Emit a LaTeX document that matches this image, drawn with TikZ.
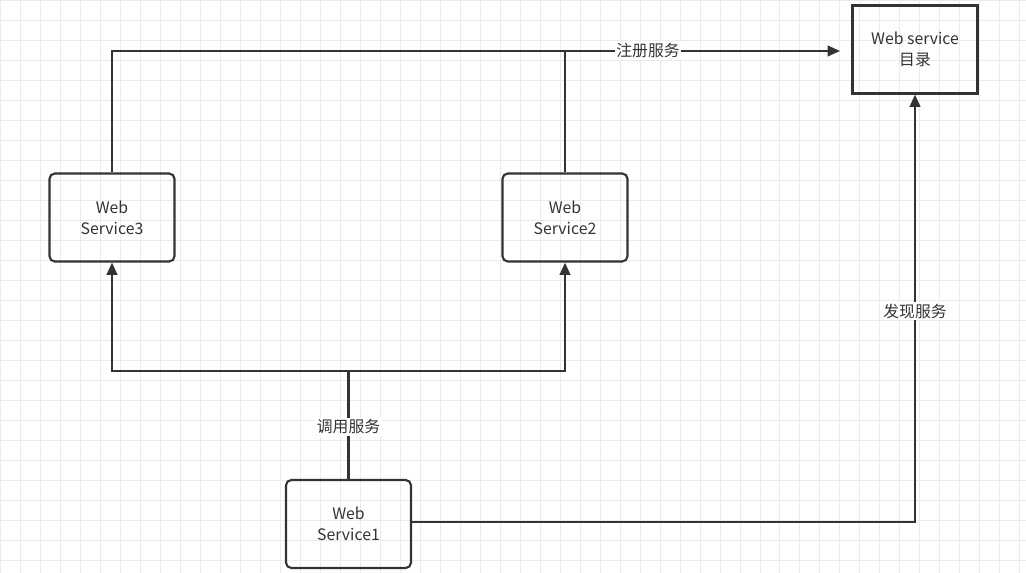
\documentclass[tikz,border=0pt]{standalone}
\usepackage{fontspec}
\setmainfont{Noto Sans CJK SC}
\usetikzlibrary{arrows.meta}
\tikzset{
  svc/.style={draw=black!80,line width=1.2pt,rounded corners=3pt,minimum width=2.5cm,minimum height=1.76cm,align=center,font=\fontsize{9}{12}\selectfont,text=black!80},
  lnk/.style={draw=black!80,line width=1.2pt,-{Triangle[length=7pt,width=6pt]}},
  lbl/.style={fill=white,inner sep=1pt,font=\fontsize{9}{12}\selectfont,text=black!80}
}
\begin{document}
\begin{tikzpicture}[x=0.02cm,y=-0.02cm]
        \useasboundingbox (0,0) rectangle (1026,573);
        \draw[black!8,step=0.4cm] (0,0) grid (1026,573);
        \node[svc] (ws3) at (112,217.5) {Web\\Service3};
        \node[svc] (ws2) at (565,217.5) {Web\\Service2};
        \node[svc] (ws1) at (348.5,524) {Web\\Service1};
        \node[svc,rounded corners=0pt] (dir) at (915,49.5) {Web service\\目录};
        \coordinate (reg) at (840,51);
        \coordinate (call) at (348.5,371);
        % register
        \draw[lnk] (ws3.north) |- (reg);
        \draw[black!80,line width=1.2pt] (ws2.north) -- (ws2.north |- reg);
        \node[lbl] (regl) at (648,51) {注册服务};
        % invoke
        \draw[black!80,line width=1.2pt] (ws1.north) -- (call);
        \draw[lnk] (call) -| (ws3.south);
        \draw[lnk] (call) -| (ws2.south);
        \node[lbl] (calll) at (348.5,427) {调用服务};
        % discover
        \draw[lnk] (ws1.east |- 0,522) -| (dir.south);
        \node[lbl] (disl) at (915,311) {发现服务};
\end{tikzpicture}
\end{document}
